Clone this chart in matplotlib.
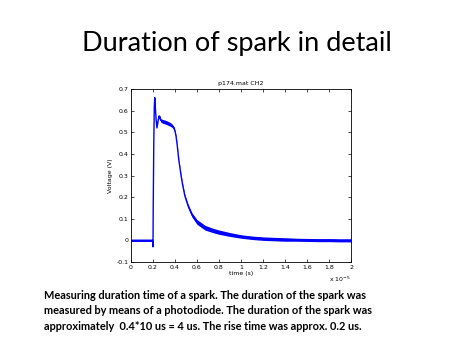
import matplotlib
matplotlib.use("Agg")
import matplotlib.pyplot as plt
import numpy as np

# Signal (time in units of 1e-5 s, voltage in V)
t = [0.0, 0.05, 0.10, 0.15, 0.195, 0.200, 0.202, 0.207, 0.212, 0.216, 0.222, 0.228,
     0.236, 0.245, 0.255, 0.262, 0.270, 0.29, 0.31, 0.33, 0.35, 0.37, 0.39,
     0.40, 0.41, 0.42, 0.435, 0.455, 0.47, 0.49, 0.52, 0.555, 0.60, 0.675,
     0.75, 0.80, 0.90, 1.00, 1.10, 1.20, 1.30, 1.40, 1.50, 1.60,
     1.70, 1.80, 1.90, 2.00]
v = [0.000, 0.000, 0.000, 0.000, 0.000, -0.030, 0.150, 0.450, 0.620, 0.660, 0.610, 0.560,
     0.520, 0.550, 0.575, 0.570, 0.555, 0.550, 0.547, 0.543, 0.538, 0.532, 0.520,
     0.505, 0.480, 0.440, 0.370, 0.300, 0.255, 0.205, 0.158, 0.117, 0.085, 0.058,
     0.045, 0.038, 0.027, 0.018, 0.012, 0.008, 0.006, 0.004, 0.003, 0.002,
     0.001, 0.001, 0.000, 0.000]
# half-width of the noisy band around the trace
noise = [0.005, 0.005, 0.005, 0.005, 0.005, 0.0, 0.0, 0.0, 0.0, 0.0, 0.0, 0.0,
         0.0, 0.003, 0.006, 0.008, 0.008, 0.009, 0.009, 0.009, 0.009, 0.008, 0.007,
         0.005, 0.004, 0.003, 0.003, 0.004, 0.005, 0.006, 0.008, 0.010, 0.011, 0.011,
         0.010, 0.010, 0.009, 0.008, 0.008, 0.008, 0.008, 0.008, 0.007, 0.007,
         0.007, 0.007, 0.007, 0.007]

xticks = [0, 0.2, 0.4, 0.6, 0.8, 1, 1.2, 1.4, 1.6, 1.8, 2]
xticklabels = ["0", "0.2", "0.4", "0.6", "0.8", "1", "1.2", "1.4", "1.6", "1.8", "2"]
yticks = [-0.1, 0, 0.1, 0.2, 0.3, 0.4, 0.5, 0.6, 0.7]
yticklabels = ["-0.1", "0", "0.1", "0.2", "0.3", "0.4", "0.5", "0.6", "0.7"]

W, H = 474, 355
fig = plt.figure(figsize=(W / 100, H / 100), dpi=100)
fig.patch.set_facecolor("white")

fig.text(237 / W, 1 - 44 / H, "Duration of spark in detail", ha="center", va="center",
         fontsize=19.5, family="Lato", color="black")

ax = fig.add_axes([131 / W, 1 - 262 / H, 220 / W, 173 / H])
tt = np.array(t)
vv = np.array(v)
nn = np.array(noise)
ax.fill_between(tt, vv - nn, vv + nn, color="#0000ff", linewidth=0)
ax.plot(tt, vv, color="#0000ff", linewidth=1.0)

ax.set_xlim(0, 2)
ax.set_ylim(-0.1, 0.7)
ax.set_xticks(xticks)
ax.set_xticklabels(xticklabels)
ax.set_yticks(yticks)
ax.set_yticklabels(yticklabels)
ax.tick_params(direction="in", length=2.5, width=0.5, labelsize=4.5, pad=2,
               top=True, right=True)
for s in ax.spines.values():
    s.set_linewidth(0.6)
ax.set_title("p174.mat CH2", fontsize=4.5, pad=3)
ax.set_xlabel("time (s)", fontsize=4.5, labelpad=1)
ax.set_ylabel("Voltage (V)", fontsize=4.5, labelpad=2)
ax.text(1.0, -0.075, r"x 10$^{-5}$", transform=ax.transAxes, ha="right", va="top",
        fontsize=4.5)

para = ("Measuring duration time of a spark. The duration of the spark was\n"
        "measured by means of a photodiode. The duration of the spark was\n"
        "approximately  0.4*10 us = 4 us. The rise time was approx. 0.2 us.")
fig.text(44 / W, 1 - 290 / H, para, ha="left", va="top", fontsize=7.9,
         family="Lato", fontweight="bold", linespacing=1.5)

fig.savefig("out.png", dpi=100)
